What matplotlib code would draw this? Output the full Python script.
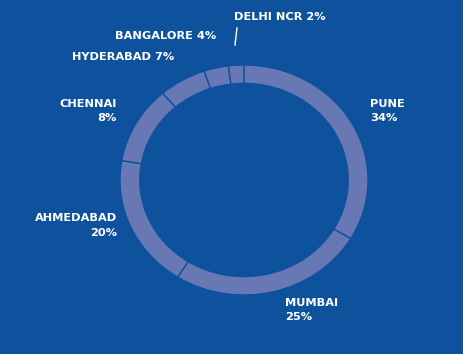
import matplotlib.pyplot as plt
from matplotlib.lines import Line2D

# City share data (label values)
cities = ['PUNE', 'MUMBAI', 'AHMEDABAD', 'CHENNAI', 'HYDERABAD', 'BANGALORE', 'DELHI NCR']
shares = [34, 25, 20, 8, 7, 4, 2]
# arc sizes as actually drawn in the ring
arc_sizes = [33.5, 25.5, 18.7, 10.9, 6.2, 3.2, 2.0]

bg = '#0e519d'
ring = '#6878b4'

W, H = 464, 354
fig = plt.figure(figsize=(W / 100, H / 100), dpi=100, facecolor=bg)
ax = fig.add_axes([0, 0, 1, 1])
ax.set_facecolor(bg)

ax.pie(arc_sizes, startangle=90, counterclock=False, radius=1,
       colors=[ring] * len(arc_sizes),
       wedgeprops=dict(width=0.16, edgecolor=bg, linewidth=1.0))

# ring is slightly squashed in the reference, so drop equal aspect
cx, cy, rx, ry = 244, 180, 124, 115
ax.set_aspect('auto')
ax.set_xlim(-cx / rx, (W - cx) / rx)
ax.set_ylim(-(H - cy) / ry, cy / ry)
ax.axis('off')

# label placement in pixel coords: (x, y, ha, two lines?)
label_pos = {
    'PUNE': (370, 111, 'left', True),
    'MUMBAI': (285, 310, 'left', True),
    'AHMEDABAD': (117, 225.5, 'right', True),
    'CHENNAI': (117, 111, 'right', True),
    'HYDERABAD': (72, 57, 'left', False),
    'BANGALORE': (115, 36, 'left', False),
    'DELHI NCR': (234, 17, 'left', False),
}

for city, pct in zip(cities, shares):
    x, y, ha, two_lines = label_pos[city]
    txt = f'{city}\n{pct}%' if two_lines else f'{city} {pct}%'
    fig.text(x / W, 1 - y / H, txt, ha=ha, va='center', ma=ha,
             color='white', fontsize=8.2, fontweight='bold',
             linespacing=1.55, family='DejaVu Sans')

# leader line for Delhi NCR
fig.add_artist(Line2D([237 / W, 235 / W], [1 - 28 / H, 1 - 45 / H],
                      transform=fig.transFigure, color='white', linewidth=1))

plt.savefig('out.png', dpi=100, facecolor=bg)
